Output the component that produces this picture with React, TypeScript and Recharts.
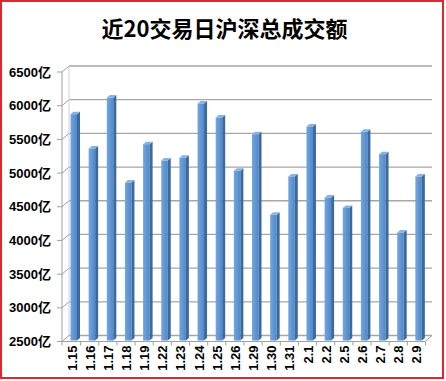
import { Bar, BarChart, CartesianGrid, XAxis, YAxis } from "recharts";

// 近20交易日沪深总成交额（亿元）
const dates = ["1.15", "1.16", "1.17", "1.18", "1.19", "1.22", "1.23", "1.24", "1.25", "1.26",
  "1.29", "1.30", "1.31", "2.1", "2.2", "2.5", "2.6", "2.7", "2.8", "2.9"];
const turnover = [5822, 5313, 6070, 4809, 5377, 5135, 5175, 5981, 5773, 4982,
  5525, 4329, 4898, 5640, 4586, 4430, 5561, 5229, 4067, 4898];
const yTicks = [2500, 3000, 3500, 4000, 4500, 5000, 5500, 6000, 6500];

const data = dates.map((d, i) => ({ date: d, value: turnover[i] }));

// 伪3D：背板(网格) 与前沿(坐标轴) 的偏移
const W = 446;
const H = 381;
const LEFT = 69;   // 背板左
const RIGHT = 432; // 背板右
const TOP = 66;
const BOTTOM = 335.5;
const DX = 7;
const DY = 6;
const BAND = (RIGHT - LEFT) / dates.length;

const labelFont = "'Liberation Sans', Arial, 'Noto Sans CJK SC', sans-serif";

function Bar3D(props: any) {
  const { x, y, width } = props;
  if (x == null || y == null) return null;
  const cx = x + width / 2;
  const fx = cx - 8;
  const fw = 6.5;
  const d = 3;
  const dh = 2.5;
  const yf = y + dh;
  const bottom = BOTTOM + 5;
  return (
    <g>
      <rect x={fx} y={yf} width={fw} height={bottom - yf} fill="url(#barFront)" />
      <polygon
        points={`${fx + fw},${yf} ${fx + fw + d},${y} ${fx + fw + d},${bottom - dh} ${fx + fw},${bottom}`}
        fill="#3b6aa1"
      />
      <polygon
        points={`${fx},${yf} ${fx + d},${y} ${fx + fw + d},${y} ${fx + fw},${yf}`}
        fill="#86b3e3"
      />
    </g>
  );
}

function YTick(props: any) {
  const { y, payload } = props;
  const fy = y + DY;
  return (
    <g>
      <line x1={LEFT - DX - 5} y1={fy} x2={LEFT - DX} y2={fy} stroke="#a0a0a0" strokeWidth={1} />
      <line x1={LEFT - DX} y1={fy} x2={LEFT} y2={y} stroke="#a0a0a0" strokeWidth={1} />
      <text
        x={LEFT - DX - 11}
        y={fy}
        dy={4.5}
        textAnchor="end"
        fontSize={13}
        fontWeight={700}
        fontFamily={labelFont}
        fill="#000"
      >
        {`${payload.value}亿`}
      </text>
    </g>
  );
}

function XTick(props: any) {
  const { x, payload } = props;
  const fx = x - DX / 2 - 3;
  const fy = BOTTOM + DY;
  return (
    <g>
      <line x1={fx + BAND / 2} y1={fy} x2={fx + BAND / 2} y2={fy + 4} stroke="#a0a0a0" strokeWidth={1} />
      <text
        transform={`translate(${fx + 5},${fy + 4}) rotate(-90)`}
        textAnchor="end"
        fontSize={13}
        fontWeight={700}
        fontFamily={labelFont}
        fill="#000"
      >
        {payload.value}
      </text>
    </g>
  );
}

export default function App() {
  return (
    <div style={{ position: "absolute", left: 0, top: 0, width: W, height: H, background: "#fff" }}>
      <div
        style={{
          position: "absolute",
          left: 0,
          top: 0,
          width: 444,
          height: 379,
          boxSizing: "border-box",
          border: "2.5px solid #e4252c",
        }}
      />
      <div
        style={{
          position: "absolute",
          left: 0,
          top: 13,
          width: 449,
          textAlign: "center",
          fontFamily: "'Noto Sans CJK SC', sans-serif",
          fontWeight: 700,
          fontSize: 22,
          lineHeight: "28px",
          color: "#000",
        }}
      >
        近20交易日沪深总成交额
      </div>
      <div style={{ position: "absolute", left: 0, top: 0 }}>
        <BarChart
          width={W}
          height={H}
          data={data}
          margin={{ top: TOP, right: W - RIGHT, left: LEFT - 7, bottom: H - BOTTOM - 30 }}
          barSize={9}
        >
          <defs>
            <linearGradient id="barFront" x1="0" y1="0" x2="1" y2="0">
              <stop offset="0%" stopColor="#74a6de" />
              <stop offset="100%" stopColor="#4f88c9" />
            </linearGradient>
          </defs>
          <CartesianGrid vertical={false} stroke="#a6a6a6" strokeWidth={1.3} />
          <XAxis
            dataKey="date"
            height={30}
            axisLine={false}
            tickLine={false}
            tick={<XTick />}
            interval={0}
          />
          <YAxis
            width={7}
            domain={[2500, 6500]}
            ticks={yTicks}
            axisLine={false}
            tickLine={false}
            tick={<YTick />}
            interval={0}
          />
          <Bar dataKey="value" shape={<Bar3D />} isAnimationActive={false} />
        </BarChart>
      </div>
      <svg width={W} height={H} style={{ position: "absolute", left: 0, top: 0, pointerEvents: "none" }}>
        <line x1={LEFT - DX} y1={TOP + DY} x2={LEFT - DX} y2={BOTTOM + DY} stroke="#a0a0a0" strokeWidth={1} />
        <line x1={LEFT} y1={TOP} x2={LEFT} y2={BOTTOM} stroke="#d0d0d0" strokeWidth={1} />
        <line x1={LEFT - DX} y1={BOTTOM + DY} x2={RIGHT - DX} y2={BOTTOM + DY} stroke="#a0a0a0" strokeWidth={1} />
        <line x1={RIGHT - DX} y1={BOTTOM + DY} x2={RIGHT} y2={BOTTOM} stroke="#a0a0a0" strokeWidth={1} />
        <line x1={LEFT - DX} y1={BOTTOM + DY} x2={LEFT - DX} y2={BOTTOM + DY + 4} stroke="#a0a0a0" strokeWidth={1} />
      </svg>
    </div>
  );
}
